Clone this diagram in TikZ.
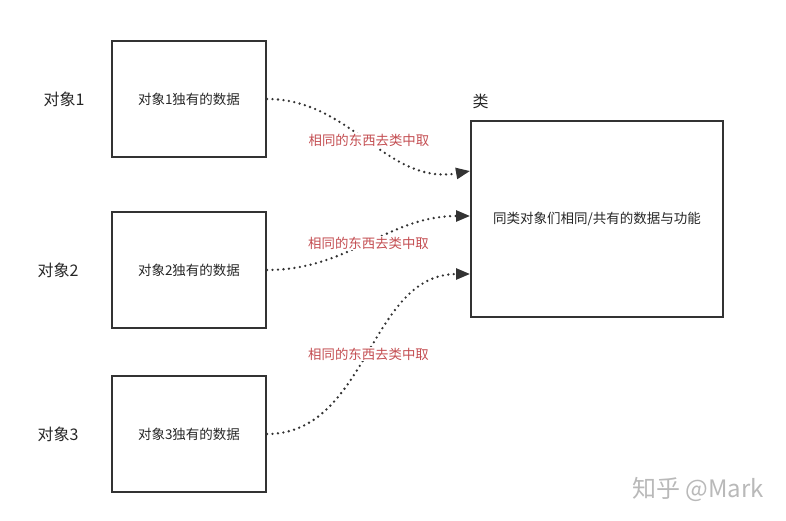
\documentclass[tikz,border=0pt]{standalone}
\usepackage{fontspec}
\setmainfont{Noto Sans CJK SC}
\usepackage{xcolor}
\usetikzlibrary{arrows.meta, positioning, calc}

\definecolor{edge}{RGB}{51,51,51}
\definecolor{lblred}{RGB}{196,78,82}
\definecolor{mark}{RGB}{185,185,185}

\begin{document}
\begin{tikzpicture}[x=1pt, y=-1pt, font=\fontsize{13.5}{15}\selectfont]
		\tikzset{
			obj/.style={draw=edge, line width=2pt, minimum width=154pt, minimum height=116pt, align=center, inner sep=0pt, text=black!85},
			cls/.style={draw=edge, line width=2pt, minimum width=252pt, minimum height=196pt, align=center, inner sep=0pt, text=black!85},
			objname/.style={font=\fontsize{16}{18}\selectfont, text=black!85},
			link/.style={draw=edge, line width=2.6pt, line cap=round, dash pattern=on 0pt off 5.5pt, -{Triangle[length=14pt, width=11pt, sep=0pt]}},
			lbl/.style={fill=white, inner sep=1pt, text=lblred, font=\fontsize{13.4}{15}\selectfont}
		}
		\useasboundingbox (0,0) rectangle (786,521);
		\node[obj, anchor=north west] (b1) at (111,40) {对象1独有的数据};
		\node[obj, below=53pt of b1] (b2) {对象2独有的数据};
		\node[obj, below=46pt of b2] (b3) {对象3独有的数据};
		
		\node[objname, left=23pt of b1] (n1) {对象1};
		\node[objname, left=29pt of b2] (n2) {对象2};
		\node[objname, left=29pt of b3] (n3) {对象3};
		
		\node[cls, anchor=north west] (c) at (470,120) {同类对象们相同/共有的数据与功能};
		\node[objname, anchor=south west] (ct) at (469,112) {类};
		
		\coordinate (e1) at ($(c.west)+(0,-48)$);
		\coordinate (e2) at ($(c.west)+(0,-3)$);
		\coordinate (e3) at ($(c.west)+(0,55)$);
		\draw[link] (b1.east) to[out=0, in=190] node[lbl, pos=0.5] {相同的东西去类中取} (e1);
		\draw[link] (b2.east) to[out=0, in=180] node[lbl, pos=0.5] {相同的东西去类中取} (e2);
		\draw[link] (b3.east) to[out=0, in=180] node[lbl, pos=0.5] {相同的东西去类中取} (e3);
		
		\node[text=mark, font=\fontsize{24}{26}\selectfont] (wm) at (698,489) {知乎 @Mark};
	\end{tikzpicture}
\end{document}
